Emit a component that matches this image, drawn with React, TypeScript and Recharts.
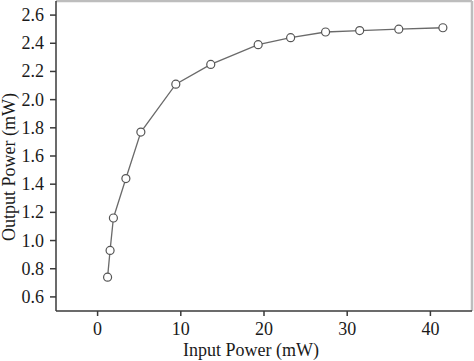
import React from 'react';
import { LineChart, Line, XAxis, YAxis, ReferenceLine } from 'recharts';

const inputPower = [1.2, 1.5, 1.9, 3.4, 5.2, 9.4, 13.6, 19.3, 23.2, 27.4, 31.5, 36.2, 41.5];
const outputPower = [0.74, 0.93, 1.16, 1.44, 1.77, 2.11, 2.25, 2.39, 2.44, 2.48, 2.49, 2.5, 2.51];
const xTicks = [0, 10, 20, 30, 40];
const yTicks = [0.6, 0.8, 1.0, 1.2, 1.4, 1.6, 1.8, 2.0, 2.2, 2.4, 2.6];

const data = inputPower.map((x, i) => ({ x, y: outputPower[i] }));

const FONT = '"Liberation Serif", "Times New Roman", serif';

const YTitle = () => (
  <text
    x={9}
    y={167}
    transform="rotate(-90, 9, 167)"
    textAnchor="middle"
    dominantBaseline="central"
    style={{ fontFamily: FONT, fontSize: 18 }}
    fill="#1a1a1a"
  >
    Output Power (mW)
  </text>
);

const XTitle = () => (
  <text
    x={251}
    y={350}
    textAnchor="middle"
    dominantBaseline="central"
    style={{ fontFamily: FONT, fontSize: 18 }}
    fill="#1a1a1a"
  >
    Input Power (mW)
  </text>
);

const renderXTick = (props: any) => {
  const { x, y, payload } = props;
  return (
    <text x={x} y={y + 12} textAnchor="middle" style={{ fontFamily: FONT, fontSize: 18 }} fill="#1a1a1a">
      {String(payload.value)}
    </text>
  );
};

const renderYTick = (props: any) => {
  const { x, y, payload } = props;
  return (
    <text x={x} y={y + 6} textAnchor="end" style={{ fontFamily: FONT, fontSize: 18 }} fill="#1a1a1a">
      {Number(payload.value).toFixed(1)}
    </text>
  );
};

export default function App() {
  return (
    <div style={{ position: 'absolute', left: 0, top: 0, background: '#fff', fontFamily: FONT }}>
      <LineChart
        width={474}
        height={361}
        data={data}
        margin={{ top: 1, right: 2, left: 0, bottom: 0 }}
        style={{ fontFamily: FONT }}
      >
        <ReferenceLine y={2.7} stroke="#bdbdbd" strokeWidth={2.5} ifOverflow="visible" />
        <ReferenceLine x={45} stroke="#bdbdbd" strokeWidth={2.5} ifOverflow="visible" />
        <XAxis
          type="number"
          dataKey="x"
          domain={[-5, 45]}
          ticks={xTicks}
          allowDataOverflow
          height={50}
          stroke="#3a3a3a"
          strokeWidth={1.5}
          tickSize={5}
          tickMargin={7}
          tick={renderXTick}
          label={<XTitle />}
        />
        <YAxis
          type="number"
          dataKey="y"
          domain={[0.5, 2.7]}
          ticks={yTicks}
          allowDataOverflow
          width={56}
          stroke="#3a3a3a"
          strokeWidth={1.5}
          tickSize={6}
          tickMargin={6}
          tick={renderYTick}
          label={<YTitle />}
        />
        <Line
          type="linear"
          dataKey="y"
          stroke="#6a6a6a"
          strokeWidth={1.3}
          dot={{ r: 4, fill: '#fff', stroke: '#555', strokeWidth: 1.2 }}
          isAnimationActive={false}
        />
      </LineChart>
    </div>
  );
}
